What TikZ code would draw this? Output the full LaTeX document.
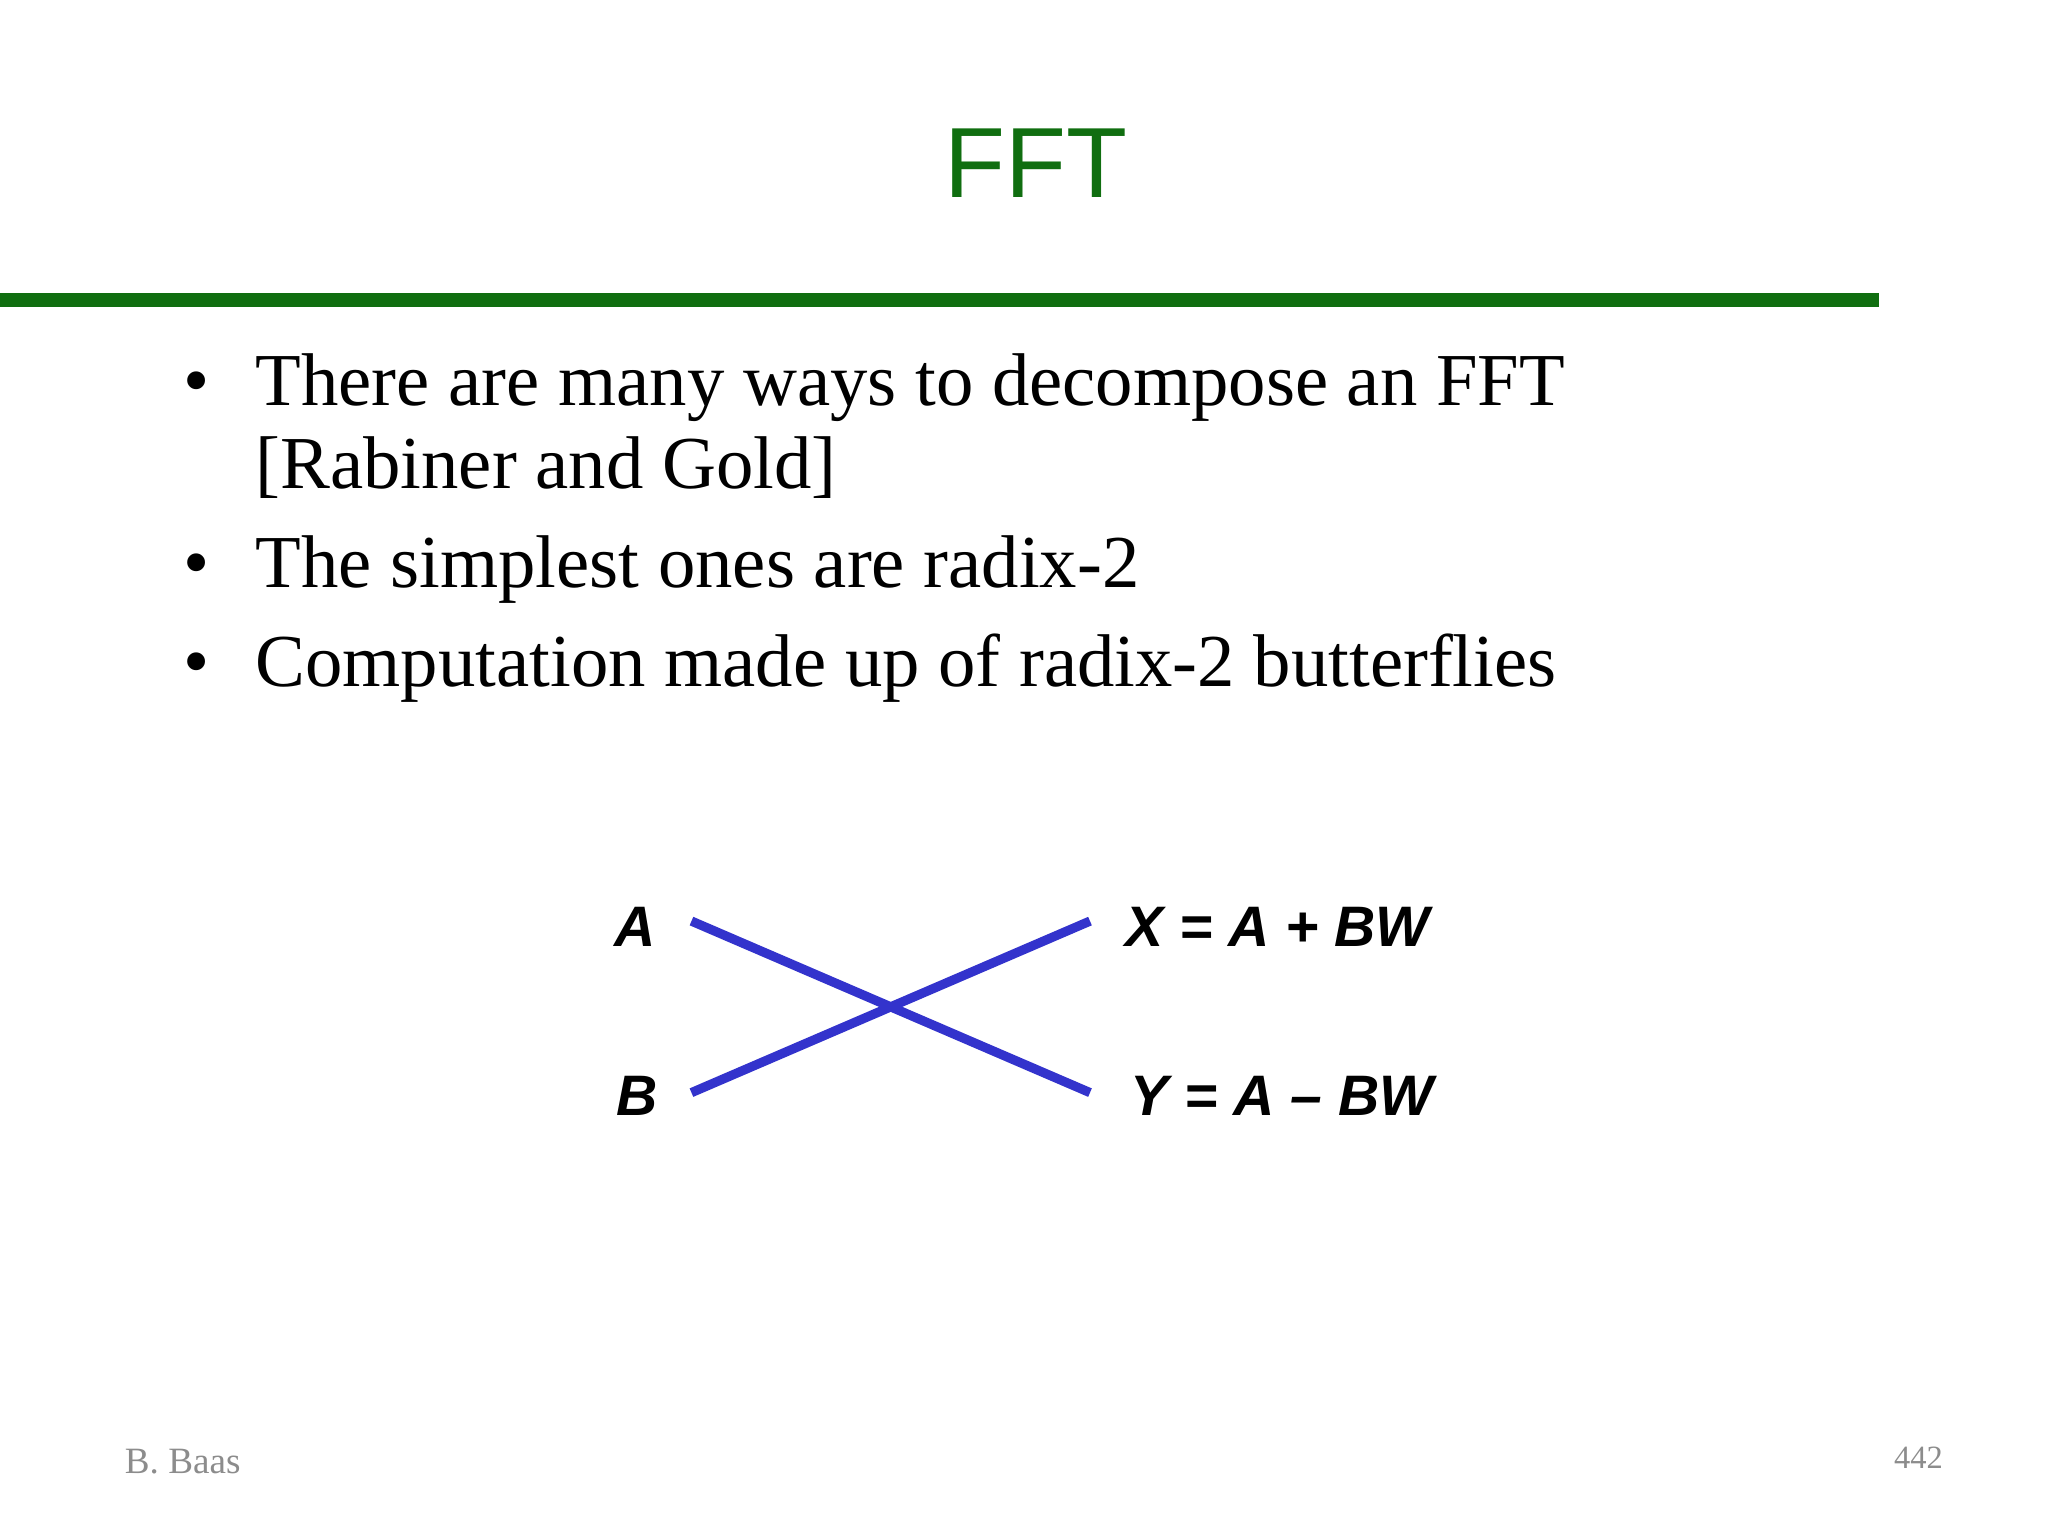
\documentclass[tikz,border=0pt]{standalone}
\usepackage{fontspec}
\setmainfont{Liberation Serif}
\newfontfamily\arialf{Liberation Sans}
\definecolor{tgreen}{RGB}{16,110,16}
\definecolor{bfly}{RGB}{51,51,204}
\definecolor{foot}{RGB}{140,140,140}
\begin{document}
\begin{tikzpicture}[x=0.01cm,y=-0.01cm,
  bul/.style={anchor=base west,inner sep=0,font=\fontsize{16.1pt}{20pt}\selectfont},
  lab/.style={inner sep=0,font=\arialf\bfseries\itshape\fontsize{12.3pt}{15pt}\selectfont},
  wire/.style={bfly,line width=0.07cm}]
\useasboundingbox (0,0) rectangle (1552,1164);
\node[anchor=base,inner sep=0,text=tgreen,font=\arialf\fontsize{21.5pt}{26pt}\selectfont] (title) at (785,150) {FFT};
\fill[tgreen] (0,222) rectangle (1424,233);
\node[bul] (b1) at (138,307) {\textbullet};
\node[bul] (t1) at (193,307) {There are many ways to decompose an FFT};
\node[bul] (t1b) at (193,370) {[Rabiner and Gold]};
\node[bul] (b2) at (138,445) {\textbullet};
\node[bul] (t2) at (193,445) {The simplest ones are radix-2};
\node[bul] (b3) at (138,520) {\textbullet};
\node[bul] (t3) at (193,520) {Computation made up of radix-2 butterflies};
\coordinate (a) at (524,698); \coordinate (b) at (524,828);
\coordinate (x) at (826,698); \coordinate (y) at (826,828);
\draw[wire] (a) -- (y);
\draw[wire] (b) -- (x);
\node[lab,anchor=base] (la) at (481,717) {A};
\node[lab,anchor=base] (lb) at (483,845) {B};
\node[lab,anchor=base west] (lx) at (852,717) {X = A + BW};
\node[lab,anchor=base west] (ly) at (856,845) {Y = A \textendash\ BW};
\node[anchor=base west,inner sep=0,text=foot,font=\fontsize{8pt}{10pt}\selectfont] (f1) at (94,1117) {B. Baas};
\node[anchor=base east,inner sep=0,text=foot,font=\fontsize{7pt}{9pt}\selectfont] (f2) at (1473,1113) {442};
\end{tikzpicture}
\end{document}
